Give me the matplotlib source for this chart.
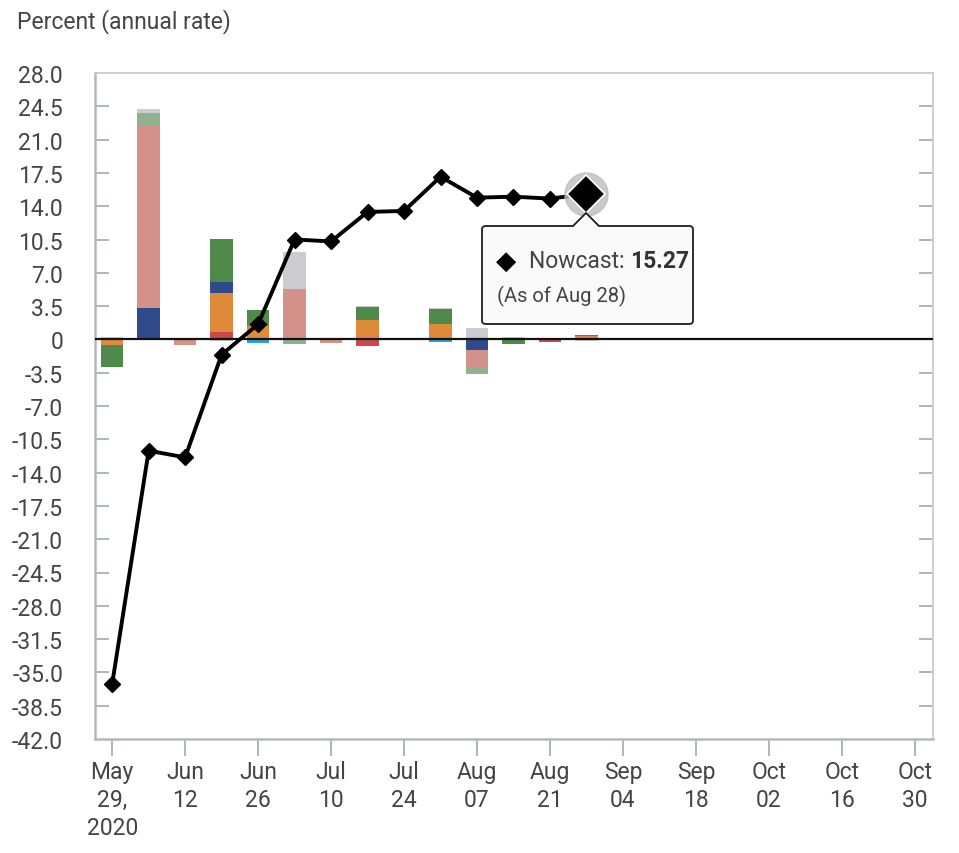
import matplotlib
matplotlib.use("Agg")
import matplotlib.pyplot as plt
import matplotlib.dates as mdates
from matplotlib.patches import FancyBboxPatch, Polygon
import numpy as np
import pandas as pd

plt.rcParams['font.family'] = ['Roboto', 'DejaVu Sans']

# ---------------- data ----------------
dates = pd.to_datetime(["2020-05-29", "2020-06-05", "2020-06-12", "2020-06-19",
                        "2020-06-26", "2020-07-03", "2020-07-10", "2020-07-17",
                        "2020-07-24", "2020-07-31", "2020-08-07", "2020-08-14",
                        "2020-08-21", "2020-08-28"])

nowcast = [-36.2, -11.7, -12.4, -1.6, 1.6, 10.5, 10.3, 13.4, 13.5, 17.1,
           14.9, 15.0, 14.8, 15.27]

housing   = [0, 0, 0, 0.74, 0, 0, 0, -0.65, 0, 0, 0, 0, -0.3, 0]
prices    = [0, 0, 0, 0, -0.35, 0, 0, 0, 0, -0.3, 0, 0, 0, 0]
manufact  = [-0.6, 0, 0, 4.1, 1.4, 0, 0, 2.0, 0, 1.6, 0, 0, 0, 0.35]
income    = [0, 3.26, 0, 1.2, 0, 0, 0, 0, 0, 0, -1.15, 0, 0, 0]
labor     = [0, 19.3, -0.6, 0, 0, 5.3, -0.35, 0, 0, 0, -1.9, 0, 0, 0]
surveys   = [-2.3, 0, 0, 4.5, 1.7, 0, 0, 1.4, 0, 1.6, 0, -0.45, 0, 0.15]
retail    = [0, 1.25, 0, 0, 0, -0.5, 0, 0, 0, 0, -0.55, 0, 0, 0]
others    = [0.25, 0.4, 0, -0.2, 0, 3.85, 0, 0.1, 0, 0.15, 1.2, 0.3, 0, -0.15]

series = [
    ("Housing and construction", housing, "#cf4848"),
    ("Prices", prices, "#29a3d0"),
    ("Manufacturing", manufact, "#e08a3c"),
    ("Income", income, "#2e4a8a"),
    ("Labor", labor, "#d4918a"),
    ("Surveys", surveys, "#4f8a4b"),
    ("Retail and consumption", retail, "#8fb38f"),
    ("Others", others, "#cbcbd1"),
]

yticks = np.arange(-42.0, 28.01, 3.5)
xticks = pd.date_range("2020-05-29", "2020-10-30", freq="14D")
xticklabels = ["May\n29,\n2020", "Jun\n12", "Jun\n26", "Jul\n10", "Jul\n24",
               "Aug\n07", "Aug\n21", "Sep\n04", "Sep\n18", "Oct\n02",
               "Oct\n16", "Oct\n30"]

last_label = "Nowcast: "
last_value = "15.27"
asof = "(As of Aug 28)"

# ---------------- figure ----------------
W, H = 959, 854
fig = plt.figure(figsize=(W / 100, H / 100), dpi=100)
ax = fig.add_axes([95 / W, 1 - 740 / H, (933 - 95) / W, (740 - 74) / H])

txt = "#444444"
spine_c = "#b4b9bf"
fs = 16.5

x = mdates.date2num(dates)
bw = 4.3
pos_base = np.zeros(len(x))
neg_base = np.zeros(len(x))
for name, vals, col in series:
    v = np.array(vals, dtype=float)
    p = np.where(v > 0, v, 0)
    n = np.where(v < 0, v, 0)
    ax.bar(x, p, bottom=pos_base, width=bw, color=col, linewidth=0, zorder=2)
    ax.bar(x, n, bottom=neg_base, width=bw, color=col, linewidth=0, zorder=2)
    pos_base += p
    neg_base += n

ax.axhline(0, color="#111111", lw=1.6, zorder=3)

ax.plot(x, nowcast, color="black", lw=2.8, marker="D", markersize=8, zorder=4)
ax.plot(x[-1], nowcast[-1], marker="o", markersize=31, color="#bdbdbd",
        alpha=0.8, linestyle="none", zorder=5)
ax.plot(x[-1], nowcast[-1], marker="D", markersize=19, color="black",
        markeredgecolor="white", markeredgewidth=1.2, linestyle="none", zorder=6)

ax.set_ylim(-42, 28)
ax.set_yticks(yticks)
ax.set_yticklabels(["0" if abs(t) < 1e-9 else f"{t:.1f}" for t in yticks])
ax.set_xlim(mdates.date2num(pd.Timestamp("2020-05-29")) - 3.3,
            mdates.date2num(pd.Timestamp("2020-10-30")) + 3.5)
ax.set_xticks(mdates.date2num(xticks))
ax.set_xticklabels(xticklabels, linespacing=1.28)

ax.tick_params(axis="y", direction="in", length=10, width=1.3, color="#a9aeb5",
               labelsize=fs, labelcolor=txt, pad=23, right=True)
ax.tick_params(axis="x", direction="out", length=12, width=1.3, color="#a9aeb5",
               labelsize=fs, labelcolor=txt, pad=3)
for s in ["left", "bottom"]:
    ax.spines[s].set_color(spine_c)
    ax.spines[s].set_linewidth(1.8)
for s in ["top", "right"]:
    ax.spines[s].set_color("#c9ccd0")
    ax.spines[s].set_linewidth(1.3)
# hide the end ticks that coincide with the border
for i in (0, -1):
    ax.yaxis.get_major_ticks()[i].tick1line.set_visible(False)
    ax.yaxis.get_major_ticks()[i].tick2line.set_visible(False)

fig.text(17 / W, 1 - 22 / H, "Percent (annual rate)", fontsize=16.5, color=txt,
         va="center", ha="left")

# ---------------- tooltip ----------------
def fx(px):
    return px / W

def fy(py):
    return 1 - py / H

box = FancyBboxPatch((fx(482), fy(325)), fx(693) - fx(482), fy(227) - fy(325),
                     boxstyle="round,pad=0,rounding_size=0.004",
                     transform=fig.transFigure, facecolor="#fafafa",
                     edgecolor="#1e1e1e", linewidth=1.3, zorder=10)
fig.add_artist(box)
tri_fill = Polygon([(fx(573), fy(228.2)), (fx(586), fy(214)), (fx(599), fy(228.2))],
                   closed=True, transform=fig.transFigure, facecolor="#fafafa",
                   edgecolor="none", zorder=11)
fig.add_artist(tri_fill)
tri_edge = Polygon([(fx(573), fy(227)), (fx(586), fy(214)), (fx(599), fy(227))],
                   closed=False, fill=False, transform=fig.transFigure,
                   edgecolor="#1e1e1e", linewidth=1.3, zorder=12)
fig.add_artist(tri_edge)

fig.text(fx(506), fy(262), "◆", fontsize=19, color="black", ha="center",
         va="center", zorder=13, family=["DejaVu Sans"])
t1 = fig.text(fx(529), fy(262), last_label, fontsize=fs, color=txt,
              ha="left", va="center", zorder=13)
fig.canvas.draw()
bb = t1.get_window_extent()
fig.text(bb.x1 / W, fy(262), last_value, fontsize=fs, color="#333333",
         fontweight="bold", ha="left", va="center", zorder=13)
fig.text(fx(497), fy(296), asof, fontsize=14.5, color=txt, ha="left",
         va="center", zorder=13)

fig.savefig("out.png", dpi=100)
